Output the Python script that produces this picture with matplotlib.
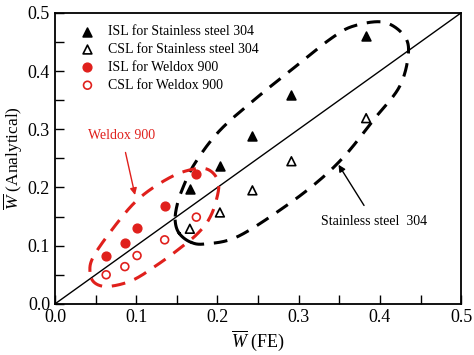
"""Analytical vs FE normalised deflection for stainless steel 304 and Weldox 900."""

import numpy as np
import matplotlib
matplotlib.use("Agg")
import matplotlib.pyplot as plt

plt.rcParams["font.family"] = ["Liberation Serif", "DejaVu Serif"]
plt.rcParams["mathtext.fontset"] = "custom"
plt.rcParams["mathtext.it"] = "Liberation Serif:italic"
plt.rcParams["mathtext.rm"] = "Liberation Serif"

# data
steel_fe = [0.166, 0.203, 0.243, 0.291, 0.383]
steel_isl = [0.197, 0.236, 0.289, 0.359, 0.460]
steel_csl = [0.129, 0.157, 0.195, 0.245, 0.319]

weldox_fe = [0.063, 0.086, 0.101, 0.135, 0.174]
weldox_isl = [0.082, 0.104, 0.130, 0.168, 0.223]
weldox_csl = [0.050, 0.064, 0.083, 0.110, 0.149]

# hand-drawn grouping outlines (control points, closed curves)
steel_outline = [
    (0.148, 0.142), (0.153, 0.121), (0.167, 0.106), (0.185, 0.103), (0.224, 0.115),
    (0.281, 0.165), (0.326, 0.213), (0.359, 0.258), (0.392, 0.316), (0.424, 0.373),
    (0.435, 0.430), (0.429, 0.462), (0.404, 0.484), (0.367, 0.477), (0.340, 0.456),
    (0.300, 0.412), (0.250, 0.356), (0.203, 0.298), (0.172, 0.241), (0.157, 0.198),
    (0.150, 0.168),
]
weldox_outline = [
    (0.043, 0.055), (0.048, 0.083), (0.076, 0.138), (0.101, 0.178), (0.129, 0.207),
    (0.158, 0.227), (0.186, 0.232), (0.201, 0.210), (0.198, 0.175), (0.189, 0.144),
    (0.175, 0.120), (0.157, 0.099), (0.129, 0.070), (0.096, 0.041), (0.066, 0.030),
    (0.049, 0.036),
]

RED = "#e0201c"
DASH = (0, (4.5, 3.2))


def _closed_spline(points, n=40):
    """Closed Catmull-Rom curve through control points; returns per-segment arrays."""
    pts = np.asarray(points, dtype=float)
    count = len(pts)
    t = np.linspace(0, 1, n)[:, None]
    segments = []
    for i in range(count):
        p0, p1, p2, p3 = pts[i - 1], pts[i], pts[(i + 1) % count], pts[(i + 2) % count]
        seg = 0.5 * ((2 * p1) + (-p0 + p2) * t + (2 * p0 - 5 * p1 + 4 * p2 - p3) * t ** 2
                     + (-p0 + 3 * p1 - 3 * p2 + p3) * t ** 3)
        segments.append(seg)
    return segments


fig = plt.figure(figsize=(4.74, 3.55), dpi=100)
ax = fig.add_axes([0.116, 0.144, 0.857, 0.820])

ax.plot([0, 0.5], [0, 0.5], color="black", lw=1.0, zorder=1)

ax.scatter(steel_fe, steel_isl, marker="^", s=40, color="black", lw=1.2,
           label="ISL for Stainless steel 304", zorder=3)
ax.scatter(steel_fe, steel_csl, marker="^", s=40, facecolors="none", edgecolors="black", lw=1.2,
           label="CSL for Stainless steel 304", zorder=3)
ax.scatter(weldox_fe, weldox_isl, marker="o", s=40, color=RED,
           label="ISL for Weldox 900", zorder=3)
ax.scatter(weldox_fe, weldox_csl, marker="o", s=32, facecolors="none", edgecolors=RED, lw=1.2,
           label="CSL for Weldox 900", zorder=3)

steel_segs = _closed_spline(steel_outline)
solid = np.vstack(steel_segs[:2])
dashed = np.vstack(steel_segs[2:])
ax.plot(solid[:, 0], solid[:, 1], color="black", lw=2.2, zorder=2)
ax.plot(dashed[:, 0], dashed[:, 1], color="black", lw=2.2, ls=DASH, zorder=2)

weldox_curve = np.vstack(_closed_spline(weldox_outline))
ax.plot(weldox_curve[:, 0], weldox_curve[:, 1], color=RED, lw=2.2, ls=DASH, zorder=2)

ax.annotate("Weldox 900", xy=(0.0985, 0.187), xytext=(0.082, 0.29),
            ha="center", va="center", color=RED, fontsize=10,
            arrowprops=dict(arrowstyle="-|>", color=RED, lw=1.0, shrinkA=6, shrinkB=0))
ax.annotate("Stainless steel  304", xy=(0.349, 0.239), xytext=(0.393, 0.141),
            ha="center", va="center", color="black", fontsize=10,
            arrowprops=dict(arrowstyle="-|>", color="black", lw=1.0, shrinkA=6, shrinkB=0))

ax.set_xlim(0, 0.5)
ax.set_ylim(0, 0.5)
ax.set_xticks([0.0, 0.1, 0.2, 0.3, 0.4, 0.5])
ax.set_yticks([0.0, 0.1, 0.2, 0.3, 0.4, 0.5])
ax.set_xticks([0.05, 0.15, 0.25, 0.35, 0.45], minor=True)
ax.set_yticks([0.05, 0.15, 0.25, 0.35, 0.45], minor=True)
ax.tick_params(which="both", direction="in", length=6.5, width=1.0, labelsize=13,
               top=False, right=False)
for spine in ax.spines.values():
    spine.set_linewidth(1.3)

ax.set_xlabel(r"$\overline{W}$ (FE)", fontsize=13, labelpad=2)
ax.set_ylabel(r"$\overline{W}$ (Analytical)", fontsize=12.5)
ax.yaxis.set_label_coords(-0.075, 0.5)

ax.legend(loc="upper left", frameon=False, fontsize=10, handletextpad=0.5,
          labelspacing=0.35, borderaxespad=0.5, bbox_to_anchor=(0.015, 1.0))

fig.savefig("out.png", dpi=100)
